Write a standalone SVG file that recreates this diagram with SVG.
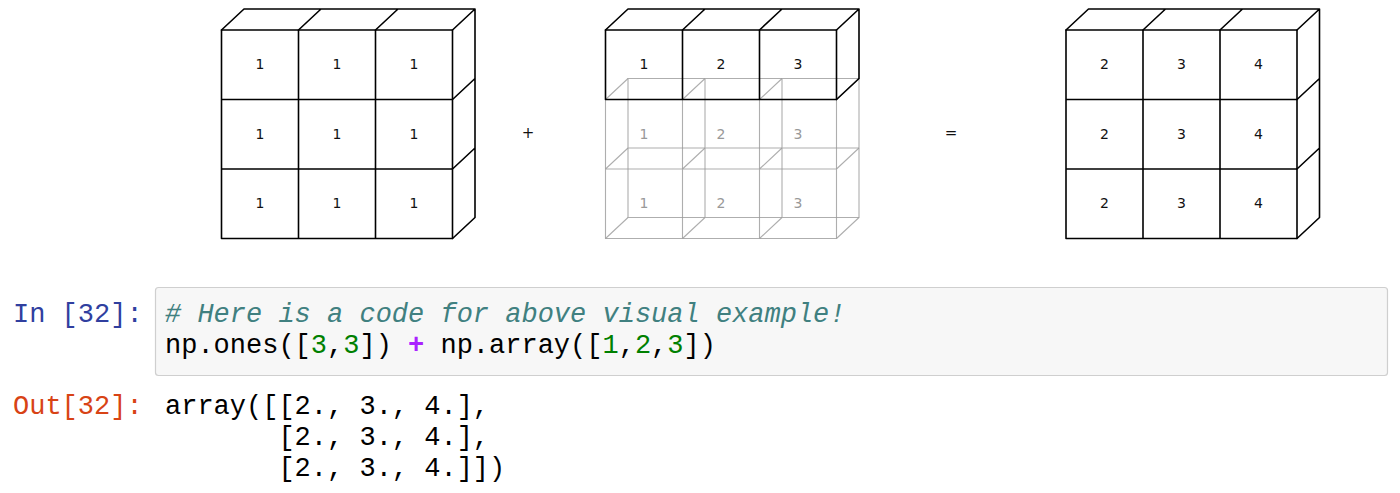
<svg xmlns="http://www.w3.org/2000/svg" width="1400" height="493" viewBox="0 0 1400 493">
<style>
.e{fill:none;stroke:#000;stroke-width:1.6;stroke-linejoin:round;stroke-linecap:round}
.g{fill:none;stroke:#9a9a9a;stroke-width:1.1;opacity:0.8}
.d{font-family:"DejaVu Sans",sans-serif;font-size:14px;fill:#111;text-anchor:middle}
.dg{font-family:"DejaVu Sans",sans-serif;font-size:14px;fill:#999;text-anchor:middle}
.op{font-family:"DejaVu Sans",sans-serif;font-size:15px;fill:#111;text-anchor:middle}
.m{font-family:"Liberation Mono","DejaVu Sans Mono",monospace;font-size:27px;fill:#000;white-space:pre}
.c{fill:#408080;font-style:italic}
.n{fill:#008000}
.p{fill:#AA22FF;font-weight:bold}
.in{fill:#303F9F}
.out{fill:#D84315}
</style>
<rect width="1400" height="493" fill="#fff"/>

<g id="cube-ones">
<path class="e" d="M221.5 30H452.5V238.5H221.5Z M298.5 30V238.5 M375.5 30V238.5 M221.5 99.5H452.5 M221.5 169H452.5"/>
<path class="e" d="M221.5 30L244 9H475L452.5 30 M298.5 30L321 9 M375.5 30L398 9 M475 9V217.5L452.5 238.5 M452.5 99.5L475 78.5 M452.5 169L475 148"/>
<text class="d" x="260" y="69">1</text><text class="d" x="337" y="69">1</text><text class="d" x="414" y="69">1</text>
<text class="d" x="260" y="139">1</text><text class="d" x="337" y="139">1</text><text class="d" x="414" y="139">1</text>
<text class="d" x="260" y="208">1</text><text class="d" x="337" y="208">1</text><text class="d" x="414" y="208">1</text>
</g>

<g id="plus"><text class="op" x="528" y="138">+</text></g>

<g id="cube-row">
<g id="ghost">
<path class="g" d="M605.5 99.5H836.5V238.5H605.5Z M682.5 99.5V238.5 M759.5 99.5V238.5 M605.5 169H836.5"/>
<path class="g" d="M628 78.5H859V217.5H628Z M705 78.5V217.5 M782 78.5V217.5 M628 148H859"/>
<path class="g" d="M605.5 99.5L628 78.5 M682.5 99.5L705 78.5 M759.5 99.5L782 78.5 M836.5 99.5L859 78.5 M605.5 169L628 148 M682.5 169L705 148 M759.5 169L782 148 M836.5 169L859 148 M605.5 238.5L628 217.5 M682.5 238.5L705 217.5 M759.5 238.5L782 217.5 M836.5 238.5L859 217.5"/>
<text class="dg" x="644" y="139">1</text><text class="dg" x="721" y="139">2</text><text class="dg" x="798" y="139">3</text>
<text class="dg" x="644" y="208">1</text><text class="dg" x="721" y="208">2</text><text class="dg" x="798" y="208">3</text>
</g>
<path class="e" d="M605.5 30H836.5V99.5H605.5Z M682.5 30V99.5 M759.5 30V99.5"/>
<path class="e" d="M605.5 30L628 9H859L836.5 30 M682.5 30L705 9 M759.5 30L782 9 M859 9V78.5L836.5 99.5"/>
<text class="d" x="644" y="69">1</text><text class="d" x="721" y="69">2</text><text class="d" x="798" y="69">3</text>
</g>

<g id="equals"><text class="op" x="951" y="138">=</text></g>

<g id="cube-result">
<path class="e" d="M1066 30H1297V238.5H1066Z M1143 30V238.5 M1220 30V238.5 M1066 99.5H1297 M1066 169H1297"/>
<path class="e" d="M1066 30L1088.5 9H1319.5L1297 30 M1143 30L1165.5 9 M1220 30L1242.5 9 M1319.5 9V217.5L1297 238.5 M1297 99.5L1319.5 78.5 M1297 169L1319.5 148"/>
<text class="d" x="1104.5" y="69">2</text><text class="d" x="1181.5" y="69">3</text><text class="d" x="1258.5" y="69">4</text>
<text class="d" x="1104.5" y="139">2</text><text class="d" x="1181.5" y="139">3</text><text class="d" x="1258.5" y="139">4</text>
<text class="d" x="1104.5" y="208">2</text><text class="d" x="1181.5" y="208">3</text><text class="d" x="1258.5" y="208">4</text>
</g>

<g id="input-cell">
<text class="m in" x="13" y="322">In [32]:</text>
<rect x="155.5" y="287.5" width="1232" height="88" rx="3" fill="#f7f7f7" stroke="#cfcfcf" stroke-width="1.2"/>
<text class="m c" x="165" y="322"># Here is a code for above visual example!</text>
<text class="m" x="165" y="353">np.ones([<tspan class="n">3</tspan>,<tspan class="n">3</tspan>]) <tspan class="p">+</tspan> np.array([<tspan class="n">1</tspan>,<tspan class="n">2</tspan>,<tspan class="n">3</tspan>])</text>
</g>

<g id="output-cell">
<text class="m out" x="13" y="414">Out[32]:</text>
<text class="m" x="165" y="414">array([[2., 3., 4.],</text>
<text class="m" x="165" y="445">       [2., 3., 4.],</text>
<text class="m" x="165" y="476">       [2., 3., 4.]])</text>
</g>
</svg>
